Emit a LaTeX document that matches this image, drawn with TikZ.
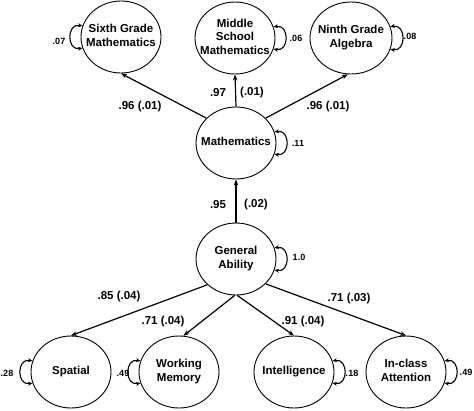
\documentclass[tikz,border=0pt]{standalone}
\usepackage{fontspec}
\setmainfont{Liberation Sans}
\usetikzlibrary{shapes.geometric,arrows.meta}
\newcommand{\lvtext}[1]{\makebox[0pt]{\begin{tabular}{@{}c@{}}#1\end{tabular}}}
\begin{document}
\begin{tikzpicture}[x=1pt,y=-1pt,
  lv/.style={ellipse,draw,line width=0.9pt,minimum width=80pt,minimum height=72pt,inner sep=0pt,font=\fontsize{11.5}{13.5}\selectfont\bfseries},
  arr/.style={line width=1.2pt,-{Stealth[length=6pt,width=4.5pt]}},
  selfarc/.style={line width=1.1pt,{Stealth[length=4.5pt,width=4pt]}-{Stealth[length=4.5pt,width=4pt]}},
  lab/.style={font=\fontsize{11.5}{13}\selectfont\bfseries,inner sep=0pt},
  slab/.style={font=\fontsize{9}{11}\selectfont\bfseries,inner sep=0pt}]
\useasboundingbox (0,0) rectangle (474,410);

% latent variables
\node[lv] (six) at (121,37) {\lvtext{Sixth Grade\\Mathematics}};
\node[lv] (mid) at (235,38) {\lvtext{Middle\\School\\Mathematics}};
\node[lv,minimum width=82pt] (nin) at (351,38) {\lvtext{Ninth Grade\\Algebra}};
\node[lv] (math) at (236,143) {\lvtext{Mathematics}};
\node[lv] (ga) at (236,259) {\lvtext{General\\Ability}};
\node[lv] (spa) at (71,372) {\lvtext{Spatial}};
\node[lv] (wm) at (179,372) {\lvtext{Working\\Memory}};
\node[lv] (int) at (294,372) {\lvtext{Intelligence}};
\node[lv] (att) at (406,372) {\lvtext{In-class\\Attention}};

% paths
\draw[arr] (math.140) -- (six.south);
\draw[arr] (math.north) -- (mid.south);
\draw[arr] (math.40) -- (nin.265);
\draw[arr] (ga.north) -- (math.south);
\draw[arr] (ga.222) -- (spa.north);
\draw[arr] (ga.268) -- (wm.83);
\draw[arr] (ga.272) -- (int.north);
\draw[arr] (ga.320) -- (att.north);

% path labels
\node[lab] (l1) at (140,107) {.96 (.01)};
\node[lab] (l2a) at (218,93) {.97};
\node[lab] (l2b) at (252,93) {(.01)};
\node[lab] (l3) at (328,107) {.96 (.01)};
\node[lab] (l4a) at (218,205) {.95};
\node[lab] (l4b) at (256,205) {(.02)};
\node[lab] (l5) at (119,297) {.85 (.04)};
\node[lab] (l6) at (163,322) {.71 (.04)};
\node[lab] (l7) at (303,322) {.91 (.04)};
\node[lab] (l8) at (349,299) {.71 (.03)};

% residual variances
\draw[selfarc] (six.164) .. controls +(-16,-3) and +(-16,3) .. (six.196);
\draw[selfarc] (mid.16) .. controls +(16,-3) and +(16,3) .. (mid.-16);
\draw[selfarc] (nin.16) .. controls +(16,-3) and +(16,3) .. (nin.-16);
\draw[selfarc] (math.16) .. controls +(16,-3) and +(16,3) .. (math.-16);
\draw[selfarc] (ga.16) .. controls +(16,-3) and +(16,3) .. (ga.-16);
\draw[selfarc] (spa.164) .. controls +(-16,-3) and +(-16,3) .. (spa.196);
\draw[selfarc] (wm.164) .. controls +(-16,-3) and +(-16,3) .. (wm.196);
\draw[selfarc] (int.16) .. controls +(16,-3) and +(16,3) .. (int.-16);
\draw[selfarc] (att.16) .. controls +(16,-3) and +(16,3) .. (att.-16);

\node[slab] (r1) at (59,41) {.07};
\node[slab] (r2) at (296,38) {.06};
\node[slab] (r3) at (410,36) {.08};
\node[slab] (r4) at (298,143) {.11};
\node[slab] (r5) at (299,257) {1.0};
\node[slab] (r6) at (7,373) {.28};
\node[slab] (r7) at (123,373) {.49};
\node[slab] (r8) at (352,373) {.18};
\node[slab] (r9) at (466,372) {.49};
\end{tikzpicture}
\end{document}
